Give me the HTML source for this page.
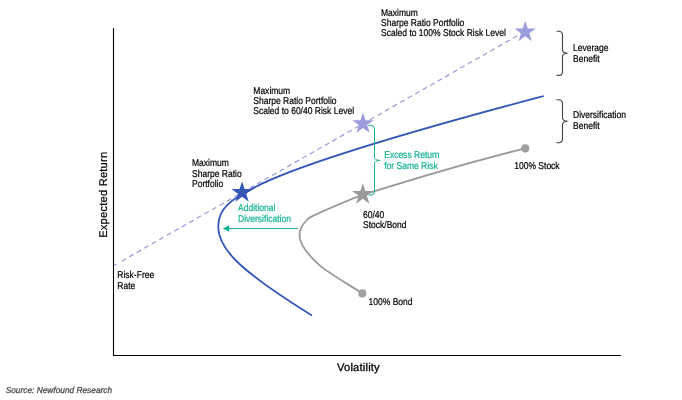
<!DOCTYPE html>
<html><head><meta charset="utf-8">
<style>
html,body{margin:0;padding:0;background:#fff;}
body{width:682px;height:400px;overflow:hidden;font-family:"Liberation Sans",sans-serif;}
svg{display:block;will-change:transform;transform:translateZ(0);}
text{font-family:"Liberation Sans",sans-serif;text-rendering:geometricPrecision;}
.l{font-size:9.9px;fill:#000;stroke:#000;stroke-width:0.22px;}
.t{font-size:9.9px;fill:#10b292;stroke:#10b292;stroke-width:0.22px;}
</style></head><body>
<svg width="682" height="400" viewBox="0 0 682 400">
<defs>
<path id="star" d="M0.00,-11.30 L2.54,-3.49 L10.75,-3.49 L4.11,1.33 L6.64,9.14 L0.00,4.32 L-6.64,9.14 L-4.11,1.33 L-10.75,-3.49 L-2.54,-3.49 Z"/>
</defs>
<!-- axes -->
<path d="M113.5,28 V355.5 H621" fill="none" stroke="#000" stroke-width="1.1"/>
<!-- dashed -->
<line x1="113.5" y1="265.8" x2="524.5" y2="31.7" stroke="#9c9cdc" stroke-width="1.25" stroke-dasharray="5,3.66" stroke-dashoffset="-0.71"/>
<line x1="116.5" y1="264.1" x2="119.4" y2="262.45" stroke="#fff" stroke-width="3"/>
<!-- gray curve -->
<path id="gray" d="M525.25,148.4 C472,161.5 418,177.5 365,194.2 C352,198.3 333,206.8 312.5,216.1 C310,217.2 308.3,218.4 306.8,220 C302,225 299.5,229.5 299.5,235 C299.5,246 310,256.6 318.9,264.65 C329,273.7 349,284.6 362.3,293.4" fill="none" stroke="#9a9a9a" stroke-width="1.8"/>
<circle cx="525.25" cy="148.4" r="4.05" fill="#a0a0a0"/>
<circle cx="362.3" cy="293.4" r="4.05" fill="#a0a0a0"/>
<!-- blue curve -->
<path id="blue" d="M543.9,96 C483.6,112 303.8,159.2 250.5,189.6 C237.6,196.9 218.2,205.6 218.2,226.5 C218.2,246.7 234.1,267.3 312,315.5" fill="none" stroke="#3558b8" stroke-width="1.8"/>
<!-- stars -->
<use href="#star" x="242.1" y="192.5" fill="#3558b8"/>
<use href="#star" x="363" y="123.7" fill="#9c9cdc"/>
<use href="#star" x="525.2" y="32" fill="#9c9cdc"/>
<use href="#star" x="362.8" y="194.5" fill="#9a9a9a"/>
<!-- teal arrow -->
<line x1="297.7" y1="228.5" x2="226" y2="228.5" stroke="#10b292" stroke-width="1.05"/>
<path d="M222.8,228.5 L229.2,225.3 L229.2,231.7 Z" fill="#10b292"/>
<!-- teal bracket -->
<path d="M368.5,125.4 H371 Q374.5,125.4 374.5,129 V157 Q374.5,160.4 380,160.4 Q374.5,160.4 374.5,163.8 V191.5 Q374.5,195 371,195 H368.5" fill="none" stroke="#10b292" stroke-width="1.0"/>
<!-- black braces -->
<path d="M556.5,31.3 H558.5 Q562.5,31.3 562.5,35.3 V49.8 Q562.5,53.3 567.7,53.3 Q562.5,53.3 562.5,56.8 V71.4 Q562.5,75.4 558.5,75.4 H556.5" fill="none" stroke="#444" stroke-width="1.1"/>
<path d="M556.5,99.7 H558.5 Q562.5,99.7 562.5,103.7 V117.8 Q562.5,121.3 567.7,121.3 Q562.5,121.3 562.5,124.8 V138.8 Q562.5,142.8 558.5,142.8 H556.5" fill="none" stroke="#444" stroke-width="1.1"/>
<!-- labels -->
<text class="l" transform="translate(381,16) scale(0.862,1)">Maximum</text>
<text class="l" transform="translate(381,26) scale(0.862,1)">Sharpe Ratio Portfolio</text>
<text class="l" transform="translate(381,36) scale(0.862,1)">Scaled to 100% Stock Risk Level</text>
<text class="l" transform="translate(253.3,94) scale(0.862,1)">Maximum</text>
<text class="l" transform="translate(253.3,104) scale(0.862,1)">Sharpe Ratio Portfolio</text>
<text class="l" transform="translate(253.3,114) scale(0.862,1)">Scaled to 60/40 Risk Level</text>
<text class="l" transform="translate(192,166) scale(0.862,1)">Maximum</text>
<text class="l" transform="translate(192,177) scale(0.862,1)">Sharpe Ratio</text>
<text class="l" transform="translate(192,187) scale(0.862,1)">Portfolio</text>
<text class="l" transform="translate(573,51) scale(0.862,1)">Leverage</text>
<text class="l" transform="translate(573,62) scale(0.862,1)">Benefit</text>
<text class="l" transform="translate(573,118) scale(0.862,1)">Diversification</text>
<text class="l" transform="translate(573,129) scale(0.862,1)">Benefit</text>
<text class="l" transform="translate(514.2,169) scale(0.862,1)">100% Stock</text>
<text class="l" transform="translate(363,217.6) scale(0.862,1)">60/40</text>
<text class="l" transform="translate(363,228.4) scale(0.862,1)">Stock/Bond</text>
<text class="l" transform="translate(368.5,305) scale(0.862,1)">100% Bond</text>
<text class="l" transform="translate(117.3,278) scale(0.862,1)">Risk-Free</text>
<text class="l" transform="translate(117.3,289) scale(0.862,1)">Rate</text>
<text class="t" transform="translate(384.2,158) scale(0.862,1)">Excess Return</text>
<text class="t" transform="translate(384.2,169) scale(0.862,1)">for Same Risk</text>
<text class="t" transform="translate(238,211) scale(0.862,1)">Additional</text>
<text class="t" transform="translate(238,222) scale(0.862,1)">Diversification</text>
<text x="337" y="371.1" font-size="11.2px" fill="#000" stroke="#000" stroke-width="0.3" textLength="42.7" lengthAdjust="spacing">Volatility</text>
<text transform="translate(106.7,237.8) rotate(-90)" font-size="11.2px" fill="#000" stroke="#000" stroke-width="0.22" textLength="86" lengthAdjust="spacing">Expected Return</text>
<text x="5.7" y="392.9" font-size="8.6px" font-style="italic" fill="#505050" stroke="#505050" stroke-width="0.3" textLength="106.4" lengthAdjust="spacingAndGlyphs">Source: Newfound Research</text>
</svg>
</body></html>
